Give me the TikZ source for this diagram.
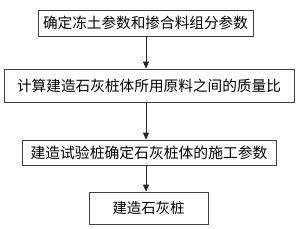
\documentclass[tikz,border=0pt]{standalone}
\usepackage{graphicx}
\usepackage{fontspec}
\newfontfamily\cjk{Noto Sans CJK SC}
\usetikzlibrary{arrows.meta}
\newcommand{\fitw}[2]{\resizebox{#1}{!}{\cjk #2}}
\begin{document}
\begin{tikzpicture}[x=1pt,y=-1pt,
  stepbox/.style={draw=black!75,line width=0.7pt,inner sep=0pt},
  arr/.style={draw=black!85,line width=0.7pt,-{Triangle[length=7pt,width=6pt]}}]
\useasboundingbox (0,0) rectangle (297,228);
\node[stepbox,minimum width=215pt,minimum height=26pt] (a) at (145.5,23) {\fitw{205pt}{确定冻土参数和掺合料组分参数}};
\node[stepbox,minimum width=290pt,minimum height=33pt] (b) at (149,85.5) {\fitw{264pt}{计算建造石灰桩体所用原料之间的质量比}};
\node[stepbox,minimum width=254pt,minimum height=25pt] (c) at (149,152.5) {\fitw{237pt}{建造试验桩确定石灰桩体的施工参数}};
\node[stepbox,minimum width=119pt,minimum height=32pt] (d) at (148.5,208) {\fitw{72pt}{建造石灰桩}};
\draw[arr] (a.south -| 146,0) -- (b.north -| 146,0);
\draw[arr] (b.south -| 146,0) -- (c.north -| 146,0);
\draw[arr] (c.south -| 146,0) -- (d.north -| 146,0);
\end{tikzpicture}
\end{document}
